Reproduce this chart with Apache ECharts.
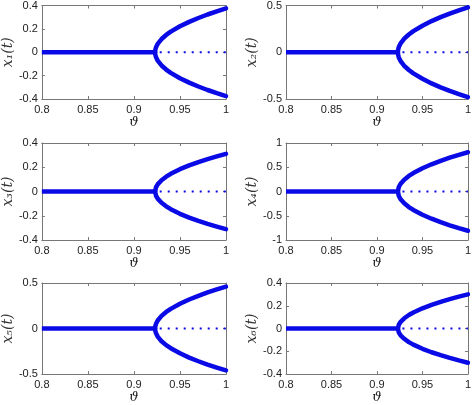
<!DOCTYPE html>
<html>
<head>
<meta charset="utf-8">
<script src="https://cdn.jsdelivr.net/npm/echarts@6/dist/echarts.min.js"></script>
<style>
  html, body { margin: 0; padding: 0; background: #fff; }
  #chart { width: 474px; height: 405px; }
</style>
</head>
<body>
<div id="chart"></div>
<script>
// theta samples along the bifurcating branches
const theta = [0.923, 0.9232, 0.924, 0.926, 0.93, 0.935, 0.94, 0.95, 0.96, 0.97, 0.98, 0.99, 1.0]
const zeroTheta = [0.8, 0.923]
const dotTheta = [0.928, 1.0]

// upper / lower branch values
const x1Up = [0, 0.019, 0.043, 0.074, 0.113, 0.148, 0.176, 0.222, 0.26, 0.293, 0.323, 0.35, 0.375]
const x1Low = [0, -0.019, -0.043, -0.074, -0.113, -0.148, -0.176, -0.222, -0.26, -0.293, -0.323, -0.35, -0.375]
const x2Up = [0, 0.024, 0.055, 0.095, 0.145, 0.19, 0.226, 0.284, 0.333, 0.375, 0.413, 0.448, 0.48]
const x2Low = [0, -0.024, -0.055, -0.095, -0.145, -0.19, -0.226, -0.284, -0.333, -0.375, -0.413, -0.448, -0.48]
const x3Up = [0, 0.016, 0.035, 0.061, 0.093, 0.122, 0.146, 0.184, 0.215, 0.242, 0.267, 0.289, 0.31]
const x3Low = [0, -0.016, -0.035, -0.061, -0.093, -0.122, -0.146, -0.184, -0.215, -0.242, -0.267, -0.289, -0.31]
const x4Up = [0, 0.041, 0.092, 0.16, 0.244, 0.32, 0.381, 0.48, 0.561, 0.633, 0.697, 0.756, 0.81]
const x4Low = [0, -0.041, -0.092, -0.16, -0.244, -0.32, -0.381, -0.48, -0.561, -0.633, -0.697, -0.756, -0.81]
const x5Up = [0, 0.023, 0.052, 0.091, 0.139, 0.182, 0.216, 0.272, 0.319, 0.359, 0.396, 0.429, 0.46]
const x5Low = [0, -0.023, -0.052, -0.091, -0.139, -0.182, -0.216, -0.272, -0.319, -0.359, -0.396, -0.429, -0.46]
const x6Up = [0, 0.015, 0.034, 0.059, 0.09, 0.119, 0.141, 0.178, 0.208, 0.234, 0.258, 0.28, 0.3]
const x6Low = [0, -0.015, -0.034, -0.059, -0.09, -0.119, -0.141, -0.178, -0.208, -0.234, -0.258, -0.28, -0.3]

const yNames = ['x\u2081(t)', 'x\u2082(t)', 'x\u2083(t)', 'x\u2084(t)', 'x\u2085(t)', 'x\u2086(t)']
const yMin = [-0.4, -0.5, -0.4, -1, -0.5, -0.4]
const yMax = [0.4, 0.5, 0.4, 1, 0.5, 0.4]
const yStep = [0.2, 0.5, 0.2, 0.5, 0.5, 0.2]
const ups = [x1Up, x2Up, x3Up, x4Up, x5Up, x6Up]
const lows = [x1Low, x2Low, x3Low, x4Low, x5Low, x6Low]

const boxes = [
  { left: 38, top: 4, width: 188, height: 95 },
  { left: 286, top: 4, width: 188, height: 95 },
  { left: 38, top: 143, width: 188, height: 97 },
  { left: 286, top: 143, width: 188, height: 97 },
  { left: 38, top: 283, width: 188, height: 96 },
  { left: 286, top: 283, width: 188, height: 96 }
]

const blue = '#0a0ae6'
const frame = '#777'
const labelFont = { color: '#222', fontSize: 11, fontFamily: 'Liberation Sans' }

const grid = []
const xAxis = []
const yAxis = []
const series = []

boxes.forEach((b, i) => {
  grid.push(b)
  const xBase = {
    gridIndex: i, type: 'value', min: 0.8, max: 1, interval: 0.05,
    splitLine: { show: false },
    axisLine: { onZero: false, lineStyle: { color: frame } },
    axisTick: { inside: true, length: 3, lineStyle: { color: frame } }
  }
  xAxis.push(Object.assign({}, xBase, {
    position: 'bottom',
    axisLabel: Object.assign({ margin: 5 }, labelFont),
    name: '\u03d1', nameLocation: 'middle', nameGap: 15,
    nameTextStyle: { color: '#222', fontSize: 13, fontStyle: 'italic', fontFamily: 'DejaVu Serif' }
  }))
  xAxis.push(Object.assign({}, xBase, { position: 'top', axisLabel: { show: false } }))

  const yBase = {
    gridIndex: i, type: 'value', min: yMin[i], max: yMax[i], interval: yStep[i],
    splitLine: { show: false },
    axisLine: { onZero: false, lineStyle: { color: frame } },
    axisTick: { inside: true, length: 3, lineStyle: { color: frame } }
  }
  yAxis.push(Object.assign({}, yBase, {
    position: 'left',
    axisLabel: Object.assign({ margin: 4 }, labelFont),
    name: yNames[i], nameLocation: 'middle', nameRotate: 90, nameGap: 22,
    nameTextStyle: { color: '#333', fontSize: 14, fontStyle: 'italic', fontFamily: 'DejaVu Serif' }
  }))
  yAxis.push(Object.assign({}, yBase, { position: 'right', axisLabel: { show: false } }))

  const xi = i * 2
  const yi = i * 2
  const common = { type: 'line', xAxisIndex: xi, yAxisIndex: yi, showSymbol: false, symbol: 'none', animation: false }
  series.push(Object.assign({}, common, {
    data: zeroTheta.map(t => [t, 0]),
    lineStyle: { color: blue, width: 4.5 }
  }))
  series.push(Object.assign({}, common, {
    data: dotTheta.map(t => [t, 0]),
    lineStyle: { color: blue, width: 2, type: [2, 6] }
  }))
  series.push(Object.assign({}, common, {
    data: theta.map((t, k) => [t, ups[i][k]]),
    lineStyle: { color: blue, width: 4.5, cap: 'round', join: 'round' }
  }))
  series.push(Object.assign({}, common, {
    data: theta.map((t, k) => [t, lows[i][k]]),
    lineStyle: { color: blue, width: 4.5, cap: 'round', join: 'round' }
  }))
})

const chart = echarts.init(document.getElementById('chart'))
chart.setOption({
  backgroundColor: '#fff',
  grid: grid,
  xAxis: xAxis,
  yAxis: yAxis,
  series: series
})
</script>
</body>
</html>
